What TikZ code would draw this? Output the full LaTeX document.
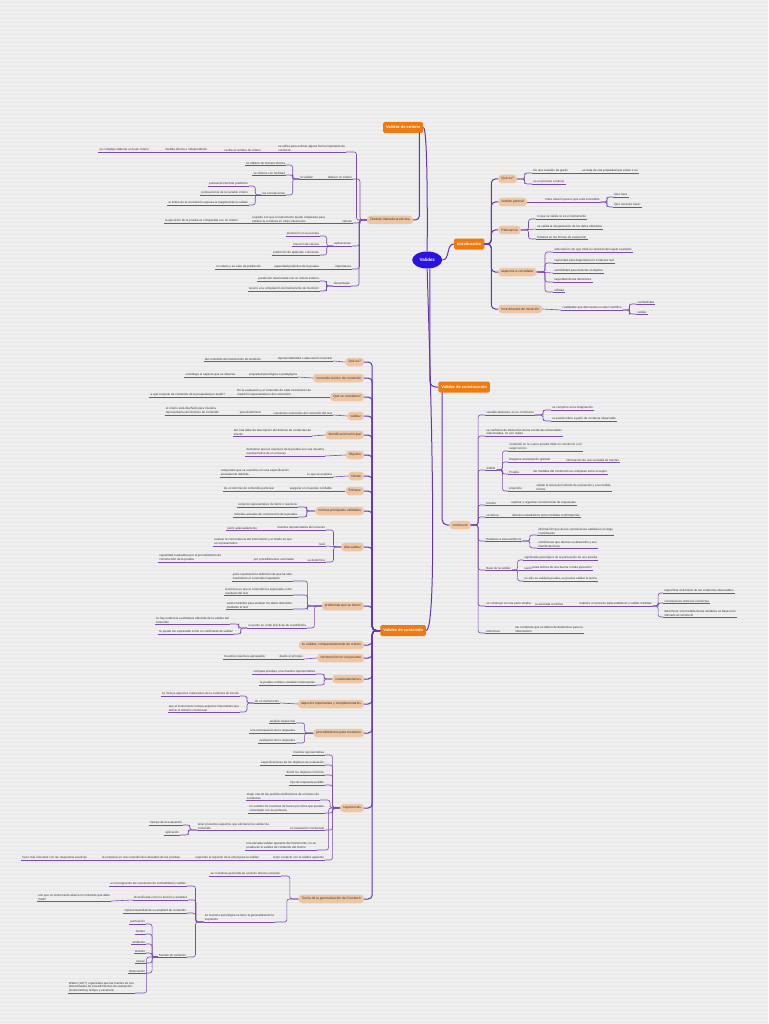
\documentclass[tikz,border=0pt]{standalone}
\usepackage{fontspec}
\setmainfont{Liberation Sans}
\usetikzlibrary{calc,shapes.geometric}
\definecolor{bg}{HTML}{EFEFEF}
\definecolor{bgl}{HTML}{E7E7E7}
\definecolor{ln}{HTML}{7A4CB0}
\definecolor{tk}{HTML}{6536B0}
\definecolor{org}{HTML}{F07A10}
\definecolor{pill}{HTML}{EEC6A3}
\definecolor{vb}{HTML}{2A12E0}
\tikzset{
 tx/.style={inner xsep=1pt, inner ysep=0.7pt, font=\fontsize{3}{3.6}\selectfont, align=left, text=black!80},
 ul/.style={draw=ln, line width=0.6pt},
 cn/.style={draw=ln, line width=0.6pt, rounded corners=2.5pt},
 trunk/.style={draw=tk, line width=1pt, rounded corners=4pt},
 pillbox/.style={fill=pill, rounded corners=3.5pt, minimum height=8.5pt, inner xsep=3pt, inner ysep=0.5pt, font=\fontsize{3.3}{4}\selectfont, text=black!80},
 mainbox/.style={fill=org, rounded corners=1.5pt, minimum height=11pt, inner xsep=3pt, font=\bfseries\fontsize{4}{5}\selectfont, text=white},
 vnode/.style={ellipse, fill=vb, minimum width=30pt, minimum height=17pt, inner sep=0pt, text=white, font=\bfseries\fontsize{4.5}{5}\selectfont},
}
% text nodes with underline: left side anchored at right end, right side anchored at left end
\newcommand\mmL[4]{\node[tx,anchor=south east] (#1) at (#2,#3) {#4};\draw[ul] (#1.south west) -- (#1.south east);}
\newcommand\mmR[4]{\node[tx,anchor=south west] (#1) at (#2,#3) {#4};\draw[ul] (#1.south west) -- (#1.south east);}
\newcommand\mpL[4]{\node[pillbox,anchor=east] (#1) at (#2,#3) {#4};}
\newcommand\mpR[4]{\node[pillbox,anchor=west] (#1) at (#2,#3) {#4};}
% connectors
\newcommand\ccL[2]{\draw[cn] (#1.south west) -| ($(#1.south west)!.5!(#2.south east)$) |- (#2.south east);}
\newcommand\ccR[2]{\draw[cn] (#1.south east) -| ($(#1.south east)!.5!(#2.south west)$) |- (#2.south west);}
\newcommand\ccPL[2]{\draw[cn] (#1.west) -| ($(#1.west)!.5!(#2.south east)$) |- (#2.south east);}
\newcommand\ccPR[2]{\draw[cn] (#1.east) -| ($(#1.east)!.5!(#2.south west)$) |- (#2.south west);}
\newcommand\ccBL[2]{\draw[trunk] (#1.west) -| ($(#1.west)!.5!(#2.east)$) |- (#2.east);}
\newcommand\ccBR[2]{\draw[trunk] (#1.east) -| ($(#1.east)!.5!(#2.west)$) |- (#2.west);}
\newcommand\ssL[2]{\draw[ul] (#1.south west) -- (#2.south east);}
\newcommand\ssR[2]{\draw[ul] (#1.south east) -- (#2.south west);}
\newcommand\spL[2]{\draw[ul] (#1.west) -- (#2.south east);}
\newcommand\spR[2]{\draw[ul] (#1.east) -- (#2.south west);}
\begin{document}
\begin{tikzpicture}[x=1pt,y=-1pt]
\path[fill=bg] (0,0) rectangle (768,1024);
\foreach \yy in {2,6,...,1022}{\draw[bgl,line width=0.35pt] (0,\yy) -- (768,\yy);}

% ---------- main nodes ----------
\node[vnode] (V) at (427,260) {Validez};
\node[mainbox] (VC) at (403,127.5) {Validez de criterio};
\node[mainbox] (IN) at (469,244) {Introducción};
\node[mainbox] (CO) at (464,387) {Validez de construcción};
\node[mainbox] (CT) at (403,630.5) {Validez de contenido};

\draw[trunk] (VC.east) to[out=0,in=90,looseness=0.1] (V.north);
\draw[trunk] (V.south) to[out=-90,in=0,looseness=0.1] (CT.east);
\draw[trunk] (V.east) to[out=0,in=180] (IN.west);
\draw[trunk,rounded corners=6pt] (V.-72) |- (CO.west);

% ---------- Validez de criterio ----------
\mpL{TP}{413}{220}{También llamada predictiva}
\draw[trunk] ([xshift=-4pt]VC.south east) |- (TP.east);

\mmL{S1}{346}{152}{se utiliza para estimar alguna forma importante de\\conducta}
\mmL{RC}{262}{152}{recibe el nombre de criterio}
\mmL{MD}{208}{152}{medida directa e independiente}
\mmL{EC}{150}{152}{es complejo elaborar un buen criterio}
\mmL{OB}{353}{179}{obtener un criterio}
\mmL{LV}{314}{179}{la validez}
\mmL{SO1}{286}{165}{se obtiene de manera directa}
\mmL{SO2}{286}{175}{se obtiene con facilidad}
\mmL{LC}{286}{195}{las correlaciones}
\mmL{PT}{249}{186}{puntuación del test predictivo}
\mmL{PV}{249}{195}{puntuaciones de la variable criterio}
\mmL{EI}{249}{205}{el índice de la correlación expresa la magnitud de la validez}
\mmL{VA}{353}{223}{valores}
\mmL{EG}{326}{223}{el grado con que el instrumento puede emplearse para\\estimar la conducta en otras situaciones}
\mmL{LE}{239}{223}{la ejecución de la prueba es comparada con un criterio}
\mmL{AP}{352}{246}{aplicaciones}
\mmL{PE}{320}{236}{predicción en la escuela}
\mmL{EL}{320}{246}{elección de carrera}
\mmL{PA}{320}{255}{predicción de aptitudes o ilusiones}
\mmL{IM}{352}{269}{importancia}
\mmL{CP}{320}{269}{capacidad predictiva de la prueba}
\mmL{EC2}{262}{269}{el criterio y su valor de predicción}
\mmL{DE}{351}{286}{desventajas}
\mmL{PR}{320}{281}{predicción relacionada con un criterio externo}
\mmL{RE}{320}{291}{recurre a la compilación del instrumento de medición}

\ccPL{TP}{S1}\ccPL{TP}{OB}\ccPL{TP}{VA}\ccPL{TP}{AP}\ccPL{TP}{IM}\ccPL{TP}{DE}
\ssL{S1}{RC}\ssL{RC}{MD}\ssL{MD}{EC}
\ssL{OB}{LV}
\ccL{LV}{SO1}\ccL{LV}{SO2}\ccL{LV}{LC}
\ccL{LC}{PT}\ssL{LC}{PV}\ccL{LC}{EI}
\ssL{VA}{EG}\ssL{EG}{LE}
\ccL{AP}{PE}\ssL{AP}{EL}\ccL{AP}{PA}
\ssL{IM}{CP}\ssL{CP}{EC2}
\ccL{DE}{PR}\ccL{DE}{RE}

% ---------- Introducción ----------
\mpR{Q1}{498}{179}{Qué es?}
\mpR{SG}{498}{202}{sentido general}
\mpR{RL}{498}{230}{Relevancia}
\mpR{AC}{498}{272}{aspectos a considerar}
\mpR{IMD}{498}{309}{Instrumentos de medición}
\mmR{NC}{532}{173}{No una cuestión de grado}
\mmR{ST}{581}{173}{se trata de una propiedad que existe o no}
\mmR{EP}{532}{184}{es un proceso continuo}
\mmR{HA}{544}{202}{Hace alusión para lo que está concebido}
\mmR{QH}{613}{197}{Qué hace}
\mmR{QN}{613}{207}{Qué necesita hacer}
\mmR{L1}{536}{219}{lo que se valida no es el instrumento}
\mmR{L2}{536}{229}{se valida la interpretación de los datos obtenidos}
\mmR{L3}{536}{239}{Relativa en las formas de evaluación}
\mmR{A1}{553}{252}{adecuación con que mide la conducta del sujeto evaluado}
\mmR{A2}{553}{263}{capacidad para diagnosticar la conducta real}
\mmR{A3}{553}{273}{sensibilidad para detectar el objetivo}
\mmR{A4}{553}{282}{seguridad de las decisiones}
\mmR{A5}{553}{292}{utilidad}
\mmR{CU}{561}{310}{cualidades que demuestra su valor científico}
\mmR{CF}{636}{304}{confiabilidad}
\mmR{VZ}{636}{314}{validez}

\ccBR{IN}{Q1}\ccBR{IN}{SG}\ccBR{IN}{RL}\ccBR{IN}{AC}\ccBR{IN}{IMD}
\ccPR{Q1}{NC}\ccPR{Q1}{EP}\ssR{NC}{ST}
\spR{SG}{HA}\ccR{HA}{QH}\ccR{HA}{QN}
\ccPR{RL}{L1}\spR{RL}{L2}\ccPR{RL}{L3}
\ccPR{AC}{A1}\ccPR{AC}{A2}\spR{AC}{A3}\ccPR{AC}{A4}\ccPR{AC}{A5}
\spR{IMD}{CU}\ccR{CU}{CF}\ccR{CU}{VZ}

% ---------- Validez de construcción ----------
\node[pillbox] (K) at (460,525) {constructo};
\draw[trunk,rounded corners=5pt] ([xshift=4pt]CO.south west) |- (K.west);

\mmR{VAb}{485}{415}{variable abstracta, es un constructo}
\mmR{SC}{551}{410}{se compone en la imaginación}
\mmR{SP}{551}{421}{se puede inferir a partir de conducta observable}
\mmR{SCF}{485}{436}{se conforma de deducción de las conductas observables\\relacionadas, no son reales}
\mmR{AM}{485}{470}{ámbito}
\mmR{S2}{508}{451}{sostenido en la cual la prueba mide un constructo o un\\rasgo teórico}
\mmR{RQ}{508}{462}{Requiere acumulación gradual}
\mmR{IV}{565}{462}{información de una variedad de fuentes}
\mmR{PB}{508}{474}{Prueba}
\mmR{LM}{532}{474}{las medidas del constructo se comparan entre sí según}
\mmR{PP}{508}{491}{propósito}
\mmR{VT}{535}{491}{validar la teoría del método de evaluación y a la medida\\misma}
\mmR{FU}{485}{505}{función}
\mmR{EX}{510}{505}{explicar y organizar consistencias de respuestas}
\mmR{SD}{485}{517}{se deriva}
\mmR{DI}{511}{517}{diversos estadísticos entre medidas confirmatorias}
\mmR{RV}{485}{541}{Relativos a esta evidencia}
\mmR{IQ}{537}{535}{información que de las correlaciones satisfacen el rasgo\\considerado}
\mmR{CD}{537}{548}{condiciones que afectan su desarrollo y sus\\manifestaciones}
\mmR{BV}{485}{570}{Base de la validez}
\mmR{SG2}{523}{560}{significado psicológico de la puntuación de una prueba}
\mmR{RZ}{523}{570}{razón}
\mmR{TT}{531}{570}{tarea teórica de una buena o mala ejecución}
\mmR{NS}{523}{581}{no sólo se valida la prueba, se precisa validar la teoría}
\mmR{SE}{485}{606}{se construye en una parte amplia}
\mmR{AC2}{534}{606}{la actividad científica}
\mmR{RP}{578}{606}{requiere un proceso para establecer y validar medidas}
\mmR{EA}{663}{593}{especificar el dominio de las conductas observables}
\mmR{CE}{663}{603}{correlaciones entre las conductas}
\mmR{DT}{663}{617}{determinar si la medida de las variables se basa en lo\\indicado al constructo}
\mmR{ES}{485}{633}{estructura}
\mmR{LCD}{514}{633}{las conductas que se deben de determinar para su\\observación}

\ccPR{K}{VAb}\ccPR{K}{SCF}\ccPR{K}{AM}\ccPR{K}{FU}\ccPR{K}{SD}\ccPR{K}{RV}\ccPR{K}{BV}\ccPR{K}{SE}\ccPR{K}{ES}
\ccR{VAb}{SC}\ccR{VAb}{SP}
\ccR{AM}{S2}\ccR{AM}{RQ}\ccR{AM}{PB}\ccR{AM}{PP}
\ssR{RQ}{IV}\ssR{PB}{LM}\ssR{PP}{VT}
\ssR{FU}{EX}\ssR{SD}{DI}
\ccR{RV}{IQ}\ccR{RV}{CD}
\ccR{BV}{SG2}\ssR{BV}{RZ}\ccR{BV}{NS}\ssR{RZ}{TT}
\ssR{SE}{AC2}\ssR{AC2}{RP}
\ccR{RP}{EA}\ccR{RP}{CE}\ccR{RP}{DT}
\ssR{ES}{LCD}

% ---------- Validez de contenido ----------
\mpL{C1}{364}{362}{Qué es?}
\mpL{C2}{364}{378}{contenido teórico de contenido}
\mpL{C3}{364}{397}{Qué se considera?}
\mpL{C4}{364}{416}{Validez}
\mpL{C5}{364}{435}{Identificación principal}
\mpL{C6}{364}{455}{Objetivo}
\mpL{C7}{364}{476}{Dónde}
\mpL{C8}{364}{491}{Enfoque}
\mpL{C9}{364}{511}{normas principales validadas}
\mpL{C10}{364}{547}{Alta validez}
\mpL{C11}{364}{606}{problemas que se tienen}
\mpL{C12}{364}{645}{su validez, comparativamente de criterio}
\mpL{C13}{364}{658}{construcción en una prueba}
\mpL{C14}{364}{679}{cuestionamientos}
\mpL{C15}{364}{704}{aspectos importantes y complementarios}
\mpL{C16}{364}{733}{procedimientos para muestreo}
\mpL{C17}{364}{808}{sugerencias}
\mpL{C18}{364}{899}{Teoría de la generalización de Cronbach}
\foreach \c in {C1,C2,C3,C4,C5,C6,C7,C8,C9,C10,C11,C12,C13,C14,C15,C16,C17,C18}{\ccBL{CT}{\c}}

\mmL{RA}{333}{361}{representatividad o adecuación muestral}
\mmL{DC}{262}{361}{del contenido del instrumento de medición}
\mmL{PPs}{298}{377}{propiedad psicológica o pedagógica}
\mmL{CA}{236}{377}{constituye el aspecto que se observa}
\mmL{EN}{312}{397}{En la evaluación y el contenido de cada instrumento de\\medición representativos del contenido?}
\mmL{AQ}{226}{397}{a qué conjunto de contenido de la propiedad por medir?}
\mmL{CE2}{333}{415}{cuestiones esenciales del contenido del test}
\mmL{PD}{262}{415}{para determinar}
\mmL{EL2}{220}{415}{el criterio está diseñado para muestra\\representativa del dominio de contenido}
\mmL{DCl}{312}{436}{del cual debe de descripción del dominio de conductas de\\interés}
\mmL{DM}{325}{456}{demostrar que los reactivos de la prueba son una muestra\\representativa de un universo}
\mmL{LQ}{333}{477}{lo que se examina}
\mmL{CO2}{290}{477}{compararlo que se examina con una especificación\\previamente definida}
\mmL{AS}{333}{491}{asegurar un muestreo confiable}
\mmL{DD}{275}{491}{de un dominio de contenido particular}
\mmL{CR}{298}{507}{conjunto representativo de ítems o reactivos}
\mmL{MA}{298}{517}{métodos actuales de construcción de la prueba}
\mmL{MR}{326}{530}{muestra representativa del universo}
\mmL{CB}{258}{530}{cubrir adecuadamente}
\mmL{NV}{326}{546}{nivel}
\mmL{EV}{293}{546}{evaluar la concordancia del instrumento y el medio en que\\es representativo}
\mmL{SDt}{326}{562}{se determina}
\mmL{PRr}{295}{562}{por procedimientos racionales}
\mmL{CEv}{222}{562}{capacidad evaluadora por el procedimiento de\\construcción de la prueba}
\mmL{J1}{293}{581}{juicio representa la definición de que ha sido\\insuficiente el contenido importante}
\mmL{J2}{293}{595}{la técnica en que el contenido ha expresado como\\resultado del test}
\mmL{J3}{293}{609}{varios métodos para analizar los datos obtenidos\\mediante el test}
\mmL{SU}{307}{628}{su punto es, mide prácticas de cuantificarla}
\mmL{NH}{230}{624}{no hay evidencia cuantitativa obtenida de la validez del\\contenido}
\mmL{NP}{234}{634}{no puede ser expresado como un coeficiente de validez}
\mmL{DP}{304}{659}{desde el principio}
\mmL{MR2}{266}{659}{muestreo reactivos apropiados}
\mmL{CP2}{316}{674}{compara pruebas, una muestra representativa}
\mmL{LP}{316}{685}{la prueba contiene variables interesantes}
\mmL{DU}{280}{703}{de un instrumento}
\mmL{NI}{240}{696}{no incluye aspectos irrelevantes de la conducta de interés}
\mmL{QI}{240}{712}{que el instrumento incluye aspectos importantes que\\define el dominio conductual}
\mmL{AN}{296}{723}{análisis situacional}
\mmL{UE}{296}{733}{una enumeración de la respuesta}
\mmL{EVr}{296}{743}{evaluación de la respuesta}
\mmL{MR3}{325}{755}{muestra representativa}
\mmL{ES2}{325}{765}{especificaciones de los objetivos de evaluación}
\mmL{DV}{325}{775}{dividir los objetivos mínimos}
\mmL{TR}{325}{785}{tipo de respuesta posible}
\mmL{EU}{320}{800}{elegir una de las posibles definiciones de un banco de\\conductas}
\mmL{NS2}{325}{813}{no sustituir los reactivos de banco por otros que puedan\\contemplar con los primeros}
\mmL{EC3}{325}{830}{en evaluación conductual}
\mmL{TP2}{270}{830}{tener presentes aspectos que afectarían la validez de\\contenido}
\mmL{TI}{183}{825}{tiempo de la evaluación}
\mmL{AP2}{180}{835}{aplicación}
\mmL{UV}{317}{850}{una elevada validez aparente del instrumento, no es\\prueba de la validez de contenido del mismo}
\mmL{TC}{325}{860}{tener contacto con la validez aparente}
\mmL{RS}{260}{860}{responde al requisito de la virtud para la validez}
\mmL{LE3}{181}{860}{la entrelaza en una característica deseable de las pruebas}
\mmL{HM}{88}{860}{hace más relevante con las respuestas positivas}
\mmL{SCg}{281}{876}{se considera generada de acuerdo directa naturales}
\mmL{ET}{275}{922}{en la teoría psicológica se tiene la generalidad de la\\expresión}
\mmL{EI2}{187}{886}{es incongruente las cuestiones de confiabilidad y validez}
\mmL{DF}{188}{900}{diversificada como la función y amplitud}
\mmL{SQ}{111}{901}{son que un instrumento abarca el contenido que debe\\medir}
\mmL{RA2}{187}{913}{representatividad de su amplitud de contenido}
\mmL{FV}{187}{957}{fuentes de variación}
\mmL{PU}{146}{924}{puntuación}
\mmL{TI2}{146}{934}{tiempo}
\mmL{AB}{146}{944}{ambiente}
\mmL{ME}{146}{953}{método}
\mmL{TA}{146}{963}{tareas}
\mmL{OBs}{146}{973}{observación}
\mmL{WE}{135}{993}{Weber (1977) organizaba que las fuentes de son\\determinadas de procedimientos de evaluación:\\(instrumentos) tiempo y escenario}

\spL{C1}{RA}\ssL{RA}{DC}
\spL{C2}{PPs}\ssL{PPs}{CA}
\spL{C3}{EN}\ssL{EN}{AQ}
\spL{C4}{CE2}\ssL{CE2}{PD}\ssL{PD}{EL2}
\spL{C5}{DCl}
\spL{C6}{DM}
\spL{C7}{LQ}\ssL{LQ}{CO2}
\spL{C8}{AS}\ssL{AS}{DD}
\ccPL{C9}{CR}\ccPL{C9}{MA}
\ccPL{C10}{MR}\spL{C10}{NV}\ccPL{C10}{SDt}
\ssL{MR}{CB}\ssL{NV}{EV}\ssL{SDt}{PRr}\ssL{PRr}{CEv}
\ccPL{C11}{J1}\ccPL{C11}{J2}\ccPL{C11}{J3}\ccPL{C11}{SU}
\ccL{SU}{NH}\ccL{SU}{NP}
\spL{C13}{DP}\ssL{DP}{MR2}
\ccPL{C14}{CP2}\ccPL{C14}{LP}
\spL{C15}{DU}\ccL{DU}{NI}\ccL{DU}{QI}
\ccPL{C16}{AN}\spL{C16}{UE}\ccPL{C16}{EVr}
\foreach \c in {MR3,ES2,DV,TR,EU,NS2,EC3,UV,TC}{\ccPL{C17}{\c}}
\ssL{EC3}{TP2}\ccL{TP2}{TI}\ccL{TP2}{AP2}
\ssL{TC}{RS}\ssL{RS}{LE3}\ssL{LE3}{HM}
\ccPL{C18}{SCg}\ccPL{C18}{ET}
\ccL{ET}{EI2}\ccL{ET}{DF}\ccL{ET}{RA2}\ccL{ET}{FV}
\ssL{DF}{SQ}
\foreach \c in {PU,TI2,AB,ME,TA,OBs,WE}{\ccL{FV}{\c}}
\end{tikzpicture}
\end{document}
